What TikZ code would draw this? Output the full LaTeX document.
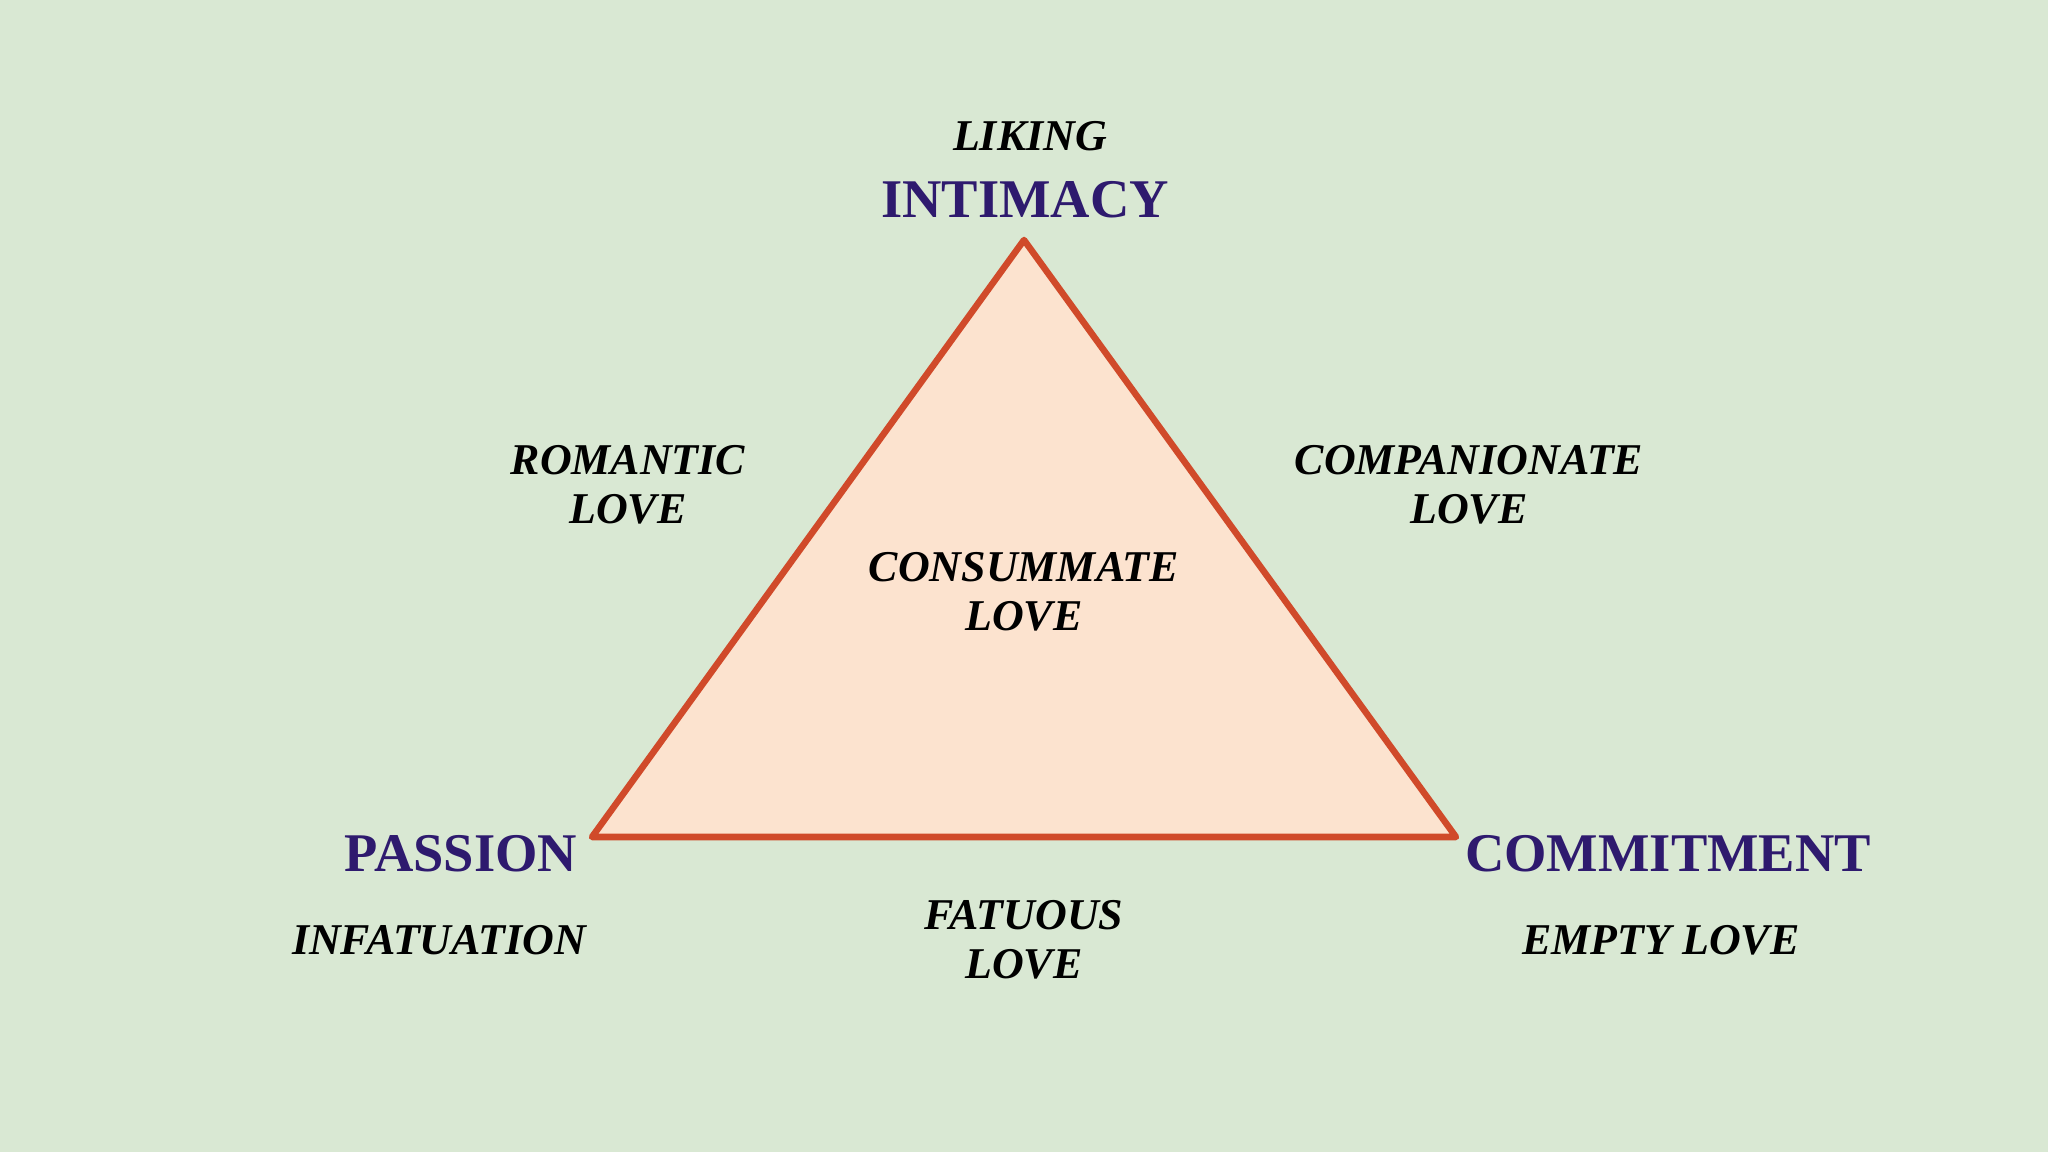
\documentclass[tikz,border=0pt]{standalone}
\usepackage{fontspec}
\setmainfont{Liberation Serif}
\definecolor{bg}{HTML}{D9E8D3}
\definecolor{tri}{HTML}{FCE3CF}
\definecolor{edge}{HTML}{D04A2A}
\definecolor{head}{HTML}{2E1A6E}
\begin{document}
\begin{tikzpicture}[x=0.01cm,y=-0.01cm,
  headlbl/.style={font=\fontsize{15.5}{18}\selectfont\bfseries, text=head},
  lovelbl/.style={font=\fontsize{12.5}{13.8}\selectfont\bfseries\itshape, align=center, text=black}]
\fill[bg] (0,0) rectangle (2048,1152);
\useasboundingbox (0,0) rectangle (2048,1152);
\coordinate (A) at (1024,240);
\coordinate (L) at (592,837);
\coordinate (R) at (1456,837);
\draw[edge, fill=tri, line width=1.85pt, line join=round] (A) -- (L) -- (R) -- cycle;
\node[lovelbl] (liking) at (1030,136) {LIKING};
\node[headlbl] (intimacy) at (1025,200) {INTIMACY};
\node[lovelbl] (romantic) at (628,485) {ROMANTIC\\LOVE};
\node[lovelbl] (compan) at (1469,485) {COMPANIONATE\\LOVE};
\node[lovelbl] (consum) at (1024,592) {CONSUMMATE\\LOVE};
\node[headlbl] (passion) at (461,854) {PASSION};
\node[headlbl] (commit) at (1668,854) {COMMITMENT};
\node[lovelbl] (infat) at (439,940) {INFATUATION};
\node[lovelbl] (fatuous) at (1024,940) {FATUOUS\\LOVE};
\node[lovelbl] (empty) at (1661,940) {EMPTY LOVE};
\end{tikzpicture}
\end{document}
